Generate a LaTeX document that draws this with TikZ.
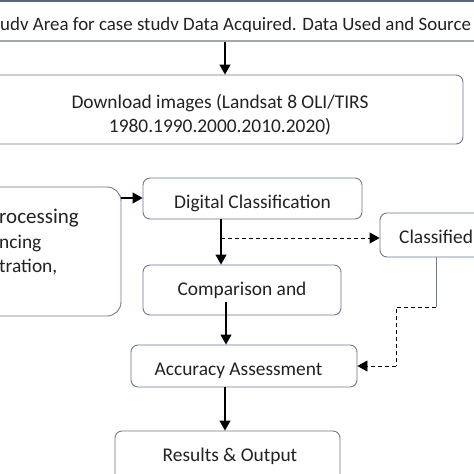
\documentclass[tikz,border=0pt]{standalone}
\usepackage{fontspec}
\setmainfont{Carlito}
\usetikzlibrary{arrows.meta}
\definecolor{boxc}{HTML}{6E7A92}
\definecolor{topc}{HTML}{5C6478}
\definecolor{botc}{HTML}{A4A8AE}
\definecolor{txtc}{HTML}{222222}
\tikzset{
  box/.style={draw=boxc, line width=0.9pt, rounded corners=7pt, fill=white, inner sep=0pt},
  lbl/.style={font=\fontsize{19.4}{24}\selectfont, text=txtc, inner sep=0pt},
  arr/.style={-{Triangle[width=11pt,length=10pt]}, line width=1.2pt, black},
  darr/.style={-{Triangle[width=11pt,length=10pt]}, line width=0.9pt, black, dash pattern=on 4pt off 3pt},
  dline/.style={line width=0.9pt, black, dash pattern=on 4pt off 3pt},
}
\begin{document}
\begin{tikzpicture}[x=1pt,y=-1pt]
\useasboundingbox (0,0) rectangle (474,474);
\fill[white] (0,0) rectangle (474,474);
% top banner
\draw[topc, line width=2pt] (0,1) -- (474,1);
\draw[botc, line width=2pt] (0,40.5) -- (474,40.5);
\begin{scope}
\clip (0,2) rectangle (474,31);
\node[lbl, anchor=base west, font=\fontsize{18.9}{24}\selectfont] (top) at (0,30) {udv Area for case studv Data Acquired. Data Used and Source};
\end{scope}
\coordinate (topb) at (225,42);
% boxes
\node[box, minimum width=473pt, minimum height=69pt] (dl) at (226.5,109.5) {};
\node[lbl, anchor=base] (dlt1) at (220,108) {Download images (Landsat 8 OLI/TIRS};
\node[lbl, anchor=base] (dlt2) at (220,132) {1980.1990.2000.2010.2020)};
\node[box, rounded corners=14pt, minimum width=141pt, minimum height=129pt] (pre) at (50.5,251.5) {};
\node[lbl, anchor=base west, font=\fontsize{21}{24}\selectfont] (pre1) at (-1,223) {rocessing};
\node[lbl, anchor=base west] (pre2) at (-1,248) {ncing};
\node[lbl, anchor=base west] (pre3) at (-1,272) {tration,};
\node[box, minimum width=219pt, minimum height=41pt] (dig) at (252.5,198.5) {};
\node[lbl, anchor=base] (digt) at (252.5,208) {Digital Classification};
\node[box, minimum width=198pt, minimum height=50pt] (cmp) at (242,290) {};
\node[lbl, anchor=base] (cmpt) at (242,295) {Comparison and};
\node[box, minimum width=130pt, minimum height=44pt] (cls) at (445,235) {};
\node[lbl, anchor=base west] (clst) at (399,243) {Classified};
\node[box, minimum width=226pt, minimum height=42pt] (acc) at (244,366) {};
\node[lbl, anchor=base] (acct) at (238.5,375) {Accuracy Assessment};
\node[box, minimum width=225pt, minimum height=59pt] (res) at (227.5,460.5) {};
\node[lbl, anchor=base] (rest) at (230,461) {Results \& Output};
% connectors
\draw[arr] (topb) -- (topb |- dl.north);
\draw[arr] (pre.east |- 0,198) -- (dig.west |- 0,198);
\draw[arr] (dig.south -| 221,0) -- (cmp.north -| 221,0);
\coordinate (dsplit) at (221,238);
\draw[darr] (dsplit) -- (cls.west |- dsplit);
\coordinate (cmpin) at (226,302);
\draw[arr] (cmpin) -- (acc.north -| cmpin);
\draw[arr] (acc.south -| 225,0) -- (res.north -| 225,0);
\coordinate (c1) at (436,307);
\coordinate (c2) at (396,307);
\coordinate (c3) at (396,366);
\draw[boxc, line width=0.9pt] (cls.south -| c1) -- (c1);
\draw[dline] (c1) -- (c2) -- (c3);
\draw[darr] (c3) -- (acc.east);
\end{tikzpicture}
\end{document}
